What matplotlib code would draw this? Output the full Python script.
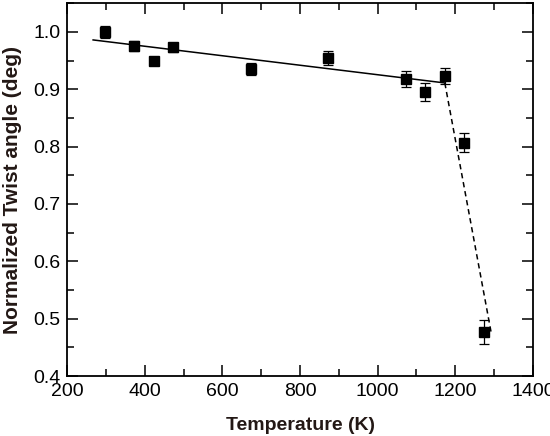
import matplotlib
matplotlib.use("Agg")
from matplotlib import pyplot as plt
from matplotlib.ticker import MultipleLocator

# measured points
temperature = [298, 373, 423, 473, 673, 873, 1073, 1123, 1173, 1223, 1273]
twist = [1.000, 0.976, 0.950, 0.973, 0.935, 0.954, 0.918, 0.895, 0.923, 0.807, 0.477]
twist_err = [0.010, 0.009, 0.007, 0.008, 0.011, 0.012, 0.014, 0.016, 0.014, 0.016, 0.021]

# fitted trend lines (end points)
fit1_t = [267, 1173]
fit1_y = [0.986, 0.911]
fit2_t = [1173, 1292]
fit2_y = [0.911, 0.477]

label_color = "#231815"
plt.rcParams["font.family"] = ["Liberation Sans", "DejaVu Sans"]

fig = plt.figure(figsize=(5.5, 4.36), dpi=100)
ax = fig.add_axes([0.122, 0.1376, 0.847, 0.855])

ax.plot(fit1_t, fit1_y, color="black", lw=1.1)
ax.plot(fit2_t, fit2_y, color="black", lw=1.1, ls=(0, (3.5, 2.5)))
ax.errorbar(temperature, twist, yerr=twist_err, fmt="s", color="black",
            ms=6.5, elinewidth=0.9, capsize=3.5, capthick=0.9)

ax.set_xlim(200, 1400)
ax.set_ylim(0.4, 1.05)
ax.xaxis.set_major_locator(MultipleLocator(200))
ax.xaxis.set_minor_locator(MultipleLocator(100))
ax.yaxis.set_minor_locator(MultipleLocator(0.05))
ax.set_yticks([0.4, 0.5, 0.6, 0.7, 0.8, 0.9, 1.0])
ax.set_yticklabels(["0.4", "0.5", "0.6", "0.7", "0.8", "0.9", "1.0"])

ax.tick_params(which="both", direction="in", top=True, right=True,
               labelsize=14, width=1.1, pad=5)
ax.tick_params(which="major", length=8)
ax.tick_params(which="minor", length=5)
for s in ax.spines.values():
    s.set_linewidth(1.3)

ax.set_xlabel("Temperature (K)", fontsize=14, fontweight="bold",
              color=label_color, labelpad=12)
ax.set_ylabel("Normalized Twist angle (deg)", fontsize=15, fontweight="bold",
              color=label_color, labelpad=8)

plt.savefig("out.png", dpi=100)
